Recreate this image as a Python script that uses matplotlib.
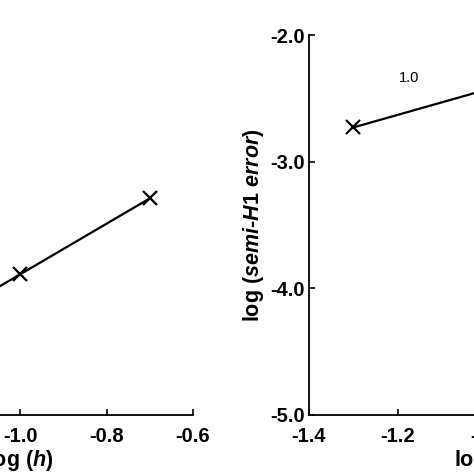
import matplotlib
matplotlib.use("Agg")
import matplotlib.pyplot as plt

# values
h_log = [-1.3, -1.0, -0.7]
l2_err_log = [-4.49, -3.89, -3.29]
h1_err_log = [-2.73, -2.43, -2.13]
x_ticks = [-1.4, -1.2, -1.0, -0.8, -0.6]
y_ticks = [-5.0, -4.0, -3.0, -2.0]
slope_label = "1.0"

plt.rcParams['font.family'] = ['Liberation Sans', 'DejaVu Sans']
plt.rcParams['font.weight'] = 'bold'
plt.rcParams['mathtext.fontset'] = 'custom'
plt.rcParams['mathtext.it'] = 'Liberation Sans:italic:bold'
plt.rcParams['mathtext.rm'] = 'Liberation Sans:bold'

fig = plt.figure(figsize=(4.74, 4.74), dpi=100)
W = 474.0

def add_ax(x0, x1, y_top, y_bot):
    return fig.add_axes([x0 / W, 1 - y_bot / W, (x1 - x0) / W, (y_bot - y_top) / W])

ax1 = add_ax(-153, 193, 35, 415)
ax2 = add_ax(308.7, 665.7, 35, 415)

for ax in (ax1, ax2):
    ax.spines['top'].set_visible(False)
    ax.spines['right'].set_visible(False)
    ax.spines['left'].set_linewidth(1.3)
    ax.spines['bottom'].set_linewidth(1.3)
    ax.set_xlim(-1.4, -0.6)
    ax.set_ylim(-5.0, -2.0)
    ax.set_xticks(x_ticks)
    ax.set_xticklabels([f"{v:.1f}" for v in x_ticks], fontsize=14.5, fontweight='bold')
    ax.set_yticks(y_ticks)
    ax.set_yticklabels([f"{v:.1f}" for v in y_ticks], fontsize=14.5, fontweight='bold')
    ax.tick_params(direction='in', length=4, width=1.2)
    ax.tick_params(axis='x', pad=9)
    ax.tick_params(axis='y', pad=3)
    ax.set_xlabel(r'log ($\it{h}$)', fontsize=15.5, fontweight='bold', labelpad=1)

ax1.plot(h_log, l2_err_log, color='black', lw=1.6, marker='x', ms=10, mew=1.6)
ax1.set_ylabel(r'log ($\it{L2\ error}$)', fontsize=15.5, fontweight='bold')

ax2.plot(h_log, h1_err_log, color='black', lw=1.6, marker='x', ms=10, mew=1.6)
ax2.set_ylabel(r'log ($\it{semi}$-$\it{H1\ error}$)', fontsize=15.5, fontweight='bold', labelpad=3)
ax2.text(-1.176, -2.34, slope_label, fontsize=10.5, fontweight='normal', ha='center', va='center')

fig.savefig("out.png", dpi=100)
